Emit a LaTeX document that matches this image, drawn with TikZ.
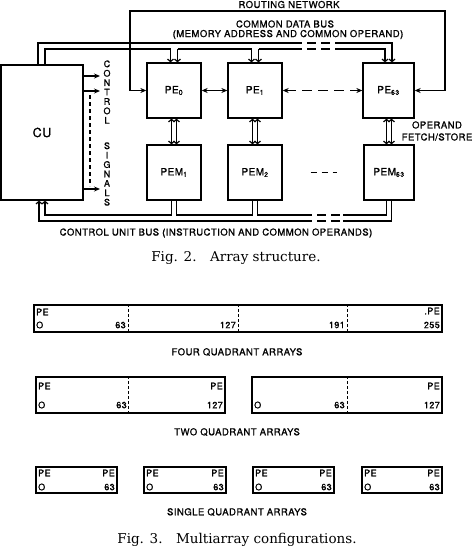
\documentclass[tikz,border=0pt]{standalone}
\usepackage{fontspec}
\setsansfont{TeX Gyre Heros}
\newfontfamily\lettering[LetterSpace=5, FakeBold=1.2]{TeX Gyre Heros}
\newfontfamily\capfont{DejaVu Serif}
\usetikzlibrary{arrows.meta}
\tikzset{
    normal/.style={draw, line width=1.3pt},
    unit/.style={style=normal, minimum width=54pt, minimum height=55pt, inner sep=0pt, font=\lettering\fontsize{10}{11}\selectfont},
    bus/.style={line width=1.2pt},
    barb/.style={-{Straight Barb[length=2.5pt, width=6pt]}}, % tips of the double buses
    rbarb/.style={{Straight Barb[length=2.5pt, width=6pt]}-},
    barbs/.style={{Straight Barb[length=2.5pt, width=6pt]}-{Straight Barb[length=2.5pt, width=6pt]}},
    sig/.style={line width=1.2pt, -{Stealth[length=6pt, width=5pt]}},
    link/.style={line width=1.2pt, {Stealth[length=6pt, width=5pt]}-{Stealth[length=6pt, width=5pt]}},
    lbl/.style={font=\lettering\fontsize{9.5}{10}\selectfont, inner sep=0pt},
    num/.style={font=\lettering\fontsize{9}{10}\selectfont, inner sep=0pt},
    arr/.style={style=normal, inner sep=0pt}, % array configuration boxes
    div/.style={line width=1pt, dash pattern=on 3pt off 2pt},
    caption/.style={font=\capfont\fontsize{13.5}{16}\selectfont, inner sep=0pt}
}

\begin{document}
\begin{tikzpicture}[x=1pt, y=-1pt]
        \useasboundingbox (0,0) rectangle (474,549);

        % Fig. 2
        \node[style=normal, minimum width=82pt, minimum height=135pt, font=\lettering\fontsize{12.5}{14}\selectfont] (CU) at (42,132.5) {CU};

        \node[unit] (PE0) at (174,90.5) {PE\textsubscript{0}};
        \node[unit] (PE1) at (255,90.5) {PE\textsubscript{1}};
        \node[unit, minimum width=51pt] (PE63) at (388.5,90.5) {PE\textsubscript{63}};
        \node[unit] (PEM1) at (174,172.5) {PEM\textsubscript{1}};
        \node[unit] (PEM2) at (255,172.5) {PEM\textsubscript{2}};
        \node[unit, minimum width=50pt] (PEM63) at (389,172.5) {PEM\textsubscript{63}};

        \coordinate (cs1) at (100,76);
        \coordinate (cs2) at (100,91);
        \coordinate (cs3) at (100,189);
        \draw[sig] (CU.east |- cs1) -- (cs1);
        \draw[sig] (CU.east |- cs2) -- (cs2);
        \draw[sig] (CU.east |- cs3) -- (cs3);
        \draw[bus, dash pattern=on 4pt off 3pt] (90,95) -- (90,186);
        \node[lbl, align=center, font=\lettering\fontsize{9}{9.4}\selectfont] (ctl) at (107,92) {C\\O\\N\\T\\R\\O\\L};
        \node[lbl, align=center, font=\lettering\fontsize{9}{9.4}\selectfont] (sigs) at (107,174) {S\\I\\G\\N\\A\\L\\S};

        % routing network
        \draw[link] (PE63.east) -| (445,11) -| (130,90.5) -- (PE0.west);
        \node[lbl, anchor=base] (route) at (289,8) {ROUTING NETWORK};
        \draw[link] (PE0) -- (PE1);
        \draw[link, dash pattern=on 10pt off 6pt] (PE1) -- (PE63);

        % common data bus
        \draw[bus] ([xshift=-4pt]CU.north) |- (293,43);
        \draw[bus, dash pattern=on 9pt off 5pt] (293,43) -- (340,43);
        \draw[bus, barb] (340,43) -| ([xshift=3.5pt]PE63.north);
        \draw[bus, barb] ([xshift=3pt]CU.north) |- (170.5,49) -- ([xshift=-3.5pt]PE0.north);
        \draw[bus, barb] ([xshift=3.5pt]PE0.north |- 0,49) -- ([xshift=3.5pt]PE0.north);
        \draw[bus, barb] ([xshift=3.5pt]PE0.north |- 0,49) -| ([xshift=-3.5pt]PE1.north);
        \draw[bus, barb] ([xshift=3.5pt]PE1.north |- 293,49) -- ([xshift=3.5pt]PE1.north);
        \draw[bus] ([xshift=3.5pt]PE1.north |- 293,49) -- (293,49);
        \draw[bus, dash pattern=on 9pt off 5pt] (293,49) -- (340,49);
        \draw[bus, barb] (340,49) -| ([xshift=-3.5pt]PE63.north);
        \node[lbl] (cdb) at (285,24) {COMMON DATA BUS};
        \node[lbl] (cdbnote) at (288,34.5) {(MEMORY ADDRESS AND COMMON OPERAND)};

        % operand fetch/store
        \draw[bus, barbs] ([xshift=-2.5pt]PE0.south) -- ([xshift=-2.5pt]PEM1.north);
        \draw[bus, barbs] ([xshift=2.5pt]PE0.south) -- ([xshift=2.5pt]PEM1.north);
        \draw[bus, barbs] ([xshift=-2.5pt]PE1.south) -- ([xshift=-2.5pt]PEM2.north);
        \draw[bus, barbs] ([xshift=2.5pt]PE1.south) -- ([xshift=2.5pt]PEM2.north);
        \draw[bus, barbs] ([xshift=-2pt]PE63.south) -- ([xshift=-2.5pt]PEM63.north);
        \draw[bus, barbs] ([xshift=3pt]PE63.south) -- ([xshift=2.5pt]PEM63.north);
        \draw[bus, dash pattern=on 6pt off 5pt, shorten <=28pt, shorten >=26pt] (PEM2) -- (PEM63);
        \node[lbl, align=center, font=\lettering\fontsize{9.5}{12}\selectfont] (fetch) at (437,131) {OPERAND\\FETCH/STORE};

        % control unit bus
        \draw[bus, rbarb] ([xshift=3pt]CU.south) |- (171.5,215) -- ([xshift=-2.5pt]PEM1.south);
        \draw[bus] ([xshift=2.5pt]PEM1.south) |- (252.5,215) -- ([xshift=-2.5pt]PEM2.south);
        \draw[bus] ([xshift=2.5pt]PEM2.south) |- (303,215);
        \draw[bus, dash pattern=on 9pt off 5pt] (303,215) -- (343,215);
        \draw[bus] (343,215) -| ([xshift=-2.5pt]PEM63.south);
        \draw[bus, rbarb] ([xshift=-3pt]CU.south) |- (303,221);
        \draw[bus, dash pattern=on 9pt off 5pt] (303,221) -- (343,221);
        \draw[bus] (343,221) -| ([xshift=2.5pt]PEM63.south);
        \node[lbl] (cub) at (216,233) {CONTROL UNIT BUS (INSTRUCTION AND COMMON OPERANDS)};

        \node[caption] (fig2) at (236,258) {Fig. 2.\quad Array structure.};

        % Fig. 3, four quadrant arrays
        \node[arr, minimum width=408pt, minimum height=27pt] (four) at (238,318.5) {};
        \draw[div] (128,0 |- four.north) -- (128,0 |- four.south);
        \draw[div] (238,0 |- four.north) -- (238,0 |- four.south);
        \draw[div] (347,0 |- four.north) -- (347,0 |- four.south);
        \node[num, anchor=west] (fourpe) at (36,312) {PE};
        \node[num, anchor=west] (fouro) at (36,325) {O};
        \node[num, anchor=east] (four63) at (126,325) {63};
        \node[num, anchor=east] (four127) at (236,325) {127};
        \node[num, anchor=east] (four191) at (345,325) {191};
        \node[num, anchor=east] (fourpeb) at (440,311) {.PE};
        \node[num, anchor=east] (four255) at (440,325) {255};
        \node[lbl] (fourcap) at (237,352) {FOUR QUADRANT ARRAYS};

        % two quadrant arrays
        \node[arr, minimum width=189pt, minimum height=36pt] (twoa) at (130.5,395) {};
        \draw[div] (128,0 |- twoa.north) -- (128,0 |- twoa.south);
        \node[num, anchor=west] (twoape) at (38,386) {PE};
        \node[num, anchor=east] (twoapeb) at (223,386) {PE};
        \node[num, anchor=west] (twoao) at (38,405) {O};
        \node[num, anchor=east] (twoa63) at (127,405) {63};
        \node[num, anchor=east] (twoa127) at (223,405) {127};
        \node[arr, minimum width=190pt, minimum height=36pt] (twob) at (347,395) {};
        \draw[div] (347,0 |- twob.north) -- (347,0 |- twob.south);
        \node[num, anchor=east] (twobpe) at (440,386) {PE};
        \node[num, anchor=west] (twobo) at (254,405) {O};
        \node[num, anchor=east] (twob63) at (345,405) {63};
        \node[num, anchor=east] (twob127) at (440,405) {127};
        \node[lbl] (twocap) at (237,432) {TWO QUADRANT ARRAYS};

        % single quadrant arrays
        \node[arr, minimum width=81pt, minimum height=26pt] (onea) at (76.5,480) {};
        \node[num, anchor=west] (oneape) at (38,473) {PE};
        \node[num, anchor=east] (oneapeb) at (115,473) {PE};
        \node[num, anchor=west] (oneao) at (38,487) {O};
        \node[num, anchor=east] (onea63) at (115,487) {63};
        \node[arr, minimum width=82pt, minimum height=26pt] (oneb) at (185,480) {};
        \node[num, anchor=west] (onebpe) at (146,473) {PE};
        \node[num, anchor=east] (onebpeb) at (224,473) {PE};
        \node[num, anchor=west] (onebo) at (146,487) {O};
        \node[num, anchor=east] (oneb63) at (224,487) {63};
        \node[arr, minimum width=81pt, minimum height=26pt] (onec) at (293.5,480) {};
        \node[num, anchor=west] (onecpe) at (255,473) {PE};
        \node[num, anchor=east] (onecpeb) at (332,473) {PE};
        \node[num, anchor=west] (oneco) at (255,487) {O};
        \node[num, anchor=east] (onec63) at (332,487) {63};
        \node[arr, minimum width=80pt, minimum height=26pt] (oned) at (402,480) {};
        \node[num, anchor=west] (onedpe) at (364,473) {PE};
        \node[num, anchor=east] (onedpeb) at (440,473) {PE};
        \node[num, anchor=west] (onedo) at (364,487) {O};
        \node[num, anchor=east] (oned63) at (440,487) {63};
        \node[lbl] (onecap) at (237,512) {SINGLE QUADRANT ARRAYS};

        \node[caption] (fig3) at (237,540) {Fig. 3.\quad Multiarray configurations.};
\end{tikzpicture}
\end{document}
